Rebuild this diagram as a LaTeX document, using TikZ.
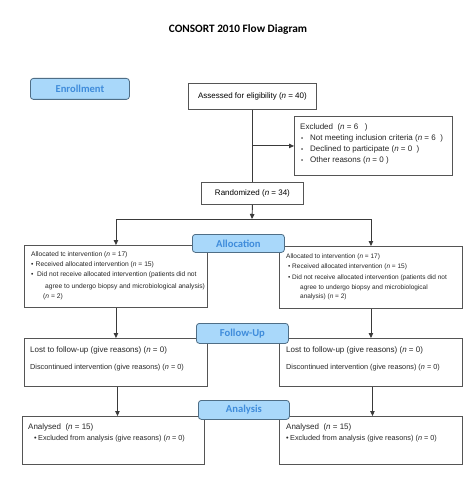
\documentclass[tikz,border=0pt]{standalone}
\usepackage{fontspec}
\setmainfont{Liberation Sans}
\newfontfamily\calib{Carlito}
\usetikzlibrary{arrows.meta}
\definecolor{lblfill}{HTML}{A9D8FA}
\definecolor{lbldraw}{HTML}{4F6E86}
\definecolor{lbltext}{HTML}{3F8CDB}
\definecolor{ln}{HTML}{3A3A3A}
\definecolor{bx}{HTML}{555555}
\newcommand{\smbul}{{\fontsize{6}{6}\selectfont\textbullet}}
\begin{document}
\begin{tikzpicture}[x=1pt,y=-1pt,
  box/.style={draw=bx, line width=0.9pt, fill=white, anchor=north west, inner sep=0pt},
  lab/.style={draw=lbldraw, fill=lblfill, rounded corners=3pt, line width=0.8pt, text=lbltext,
    anchor=north west, inner sep=0pt, font=\calib\bfseries\fontsize{10.6}{12}\selectfont},
  tx/.style={anchor=west, inner sep=0pt, font=\fontsize{8}{9}\selectfont, text=black!85},
  txs/.style={anchor=west, inner sep=0pt, font=\fontsize{7.3}{9}\selectfont, text=black!85},
  sml/.style={anchor=west, inner sep=0pt, font=\fontsize{6.7}{8}\selectfont, text=black!85},
  smr/.style={anchor=west, inner sep=0pt, font=\fontsize{6.5}{8}\selectfont, text=black!85},
  conn/.style={draw=ln, line width=0.9pt},
  arr/.style={conn, -{Triangle[length=5pt,width=4.5pt]}}]
\useasboundingbox[fill=white] (0,0) rectangle (474,478);

\node[font=\calib\bfseries\fontsize{11.3}{13}\selectfont] (title) at (238,29) {CONSORT 2010 Flow Diagram};

% boxes
\node[box, minimum width=128pt, minimum height=26pt, font=\fontsize{8}{9}\selectfont] (assess) at (188,83) {Assessed for eligibility (\textit{n} = 40)};
\node[box, minimum width=158pt, minimum height=59pt] (excl) at (294,116) {};
\node[box, minimum width=102pt, minimum height=22pt, font=\fontsize{8}{9}\selectfont] (rand) at (201,182) {Randomized (\textit{n} = 34)};
\node[box, minimum width=183pt, minimum height=62pt] (allocL) at (24,245) {};
\node[box, minimum width=183pt, minimum height=62pt] (allocR) at (279,246) {};
\node[box, minimum width=183pt, minimum height=48pt] (fuL) at (24,338) {};
\node[box, minimum width=183pt, minimum height=48pt] (fuR) at (279,338) {};
\node[box, minimum width=182pt, minimum height=48pt] (anL) at (22,416) {};
\node[box, minimum width=183pt, minimum height=48pt] (anR) at (279,416) {};

% connectors
\coordinate (split) at (252,219);
\draw[conn] (assess.south) -- (assess.south |- rand.north);
\draw[arr] (assess.south |- excl.west) -- (excl.west);
\draw[arr] (rand.south) -- (split);
\draw[conn] (allocL.north |- split) -- (allocR.north |- split);
\draw[arr] (allocL.north |- split) -- (allocL.north);
\draw[arr] (allocR.north |- split) -- (allocR.north);
\draw[arr] (allocL.south) -- (fuL.north);
\draw[arr] (allocR.south) -- (allocR.south |- fuR.north);
\draw[arr] ([xshift=1.5pt]fuL.south) -- ([xshift=1.5pt]fuL.south |- anL.north);
\draw[arr] ([xshift=1.5pt]fuR.south) -- ([xshift=1.5pt]fuR.south |- anR.north);

% texts: excluded
\node[tx] (ex1) at (300,127) {Excluded~~(\textit{n} = 6~~~)};
\node[tx] (ex2) at (301,138) {\makebox[9pt][l]{\smbul}Not meeting inclusion criteria (\textit{n} = 6~~)};
\node[tx] (ex3) at (301,149) {\makebox[9pt][l]{\smbul}Declined to participate (\textit{n} = 0~~)};
\node[tx] (ex4) at (301,160) {\makebox[9pt][l]{\smbul}Other reasons (\textit{n} = 0 )};

% allocation left
\node[sml] (al1) at (31,255) {Allocated tc intervention (\textit{n} = 17)};
\node[sml] (al2) at (31,265) {\makebox[4.5pt][l]{\textbullet}Received allocated intervention (\textit{n} = 15)};
\node[sml] (al3) at (31,275) {\makebox[6pt][l]{\textbullet}Did not receive allocated intervention (patients did not};
\node[sml] (al4) at (45,287) {agree to undergo biopsy and microbiological analysis)};
\node[sml] (al5) at (43,297) {(\textit{n} = 2)};

% allocation right
\node[smr] (ar1) at (286,257) {Allocated to intervention (\textit{n} = 17)};
\node[smr] (ar2) at (288,267) {\makebox[4pt][l]{\textbullet}Received allocated intervention (\textit{n} = 15)};
\node[smr] (ar3) at (288,278) {\makebox[4pt][l]{\textbullet}Did not receive allocated intervention (patients did not};
\node[smr] (ar4) at (300,288) {agree to undergo biopsy and microbiological};
\node[smr] (ar5) at (300,297) {analysis) (\textit{n} = 2)};

% follow-up
\node[tx] (fl1) at (30,350) {Lost to follow-up (give reasons) (\textit{n} = 0)};
\node[txs] (fl2) at (30,368) {Discontinued intervention (give reasons) (\textit{n} = 0)};
\node[tx] (fr1) at (286,350) {Lost to follow-up (give reasons) (\textit{n} = 0)};
\node[txs] (fr2) at (286,368) {Discontinued intervention (give reasons) (\textit{n} = 0)};

% analysis
\node[tx] (nl1) at (28,427) {Analysed~~(\textit{n} = 15)};
\node[txs] (nl2) at (34,439) {\makebox[4pt][l]{\textbullet}Excluded from analysis (give reasons) (\textit{n} = 0)};
\node[tx] (nr1) at (286,427) {Analysed~~(\textit{n} = 15)};
\node[txs] (nr2) at (286,439) {\makebox[4pt][l]{\textbullet}Excluded from analysis (give reasons) (\textit{n} = 0)};

% phase labels
\node[lab, minimum width=99pt, minimum height=21pt] (enr) at (30,78) {Enrollment};
\node[lab, minimum width=92pt, minimum height=18pt] (alo) at (192,234) {Allocation};
\node[lab, minimum width=92pt, minimum height=20pt] (fup) at (196,323) {Follow-Up};
\node[lab, minimum width=91pt, minimum height=19pt] (ana) at (198,400) {Analysis};
\end{tikzpicture}
\end{document}
